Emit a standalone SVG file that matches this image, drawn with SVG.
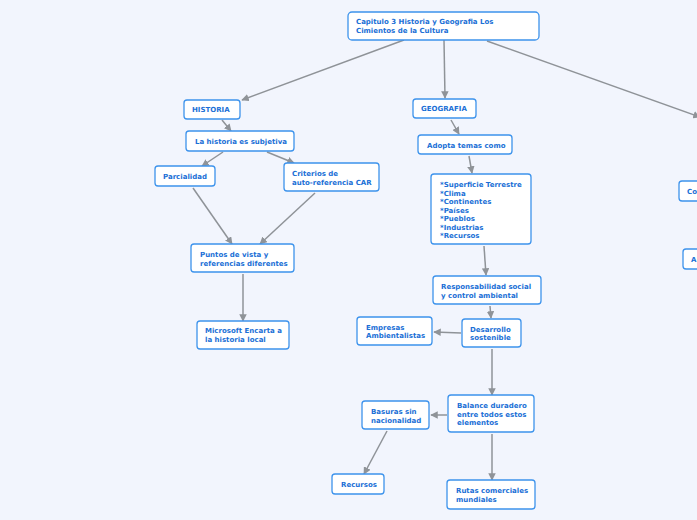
<svg xmlns="http://www.w3.org/2000/svg" width="697" height="520" viewBox="0 0 697 520">
<style>
.n{fill:#fff;stroke:#3d93ec;stroke-width:1.3}
.t{font-family:"DejaVu Sans",sans-serif;font-weight:bold;font-size:7px;fill:#1a6fd6}
.e{stroke:#8f9398;stroke-width:1.5;fill:none;marker-end:url(#a)}
</style>
<defs><marker id="a" viewBox="0 0 10 10" refX="9" refY="5" markerWidth="5" markerHeight="5" orient="auto"><path d="M0,0L10,5L0,10z" fill="#8f9398"/></marker></defs>
<rect width="697" height="520" fill="#f2f5fd"/>
<g id="connectors">
<path class="e" d="M404,40L242,100"/>
<path class="e" d="M444,40L445,98"/>
<path class="e" d="M487,41L700,117"/>
<path class="e" d="M222,120L231,131"/>
<path class="e" d="M223,152L202,166"/>
<path class="e" d="M267,152L294,163"/>
<path class="e" d="M193,188L232,244"/>
<path class="e" d="M315,193L260,244"/>
<path class="e" d="M243,274L243,321"/>
<path class="e" d="M451,120L459,134"/>
<path class="e" d="M469,156L472,173"/>
<path class="e" d="M484,246L486,275"/>
<path class="e" d="M490,306L491,318"/>
<path class="e" d="M461,333L434,332"/>
<path class="e" d="M492,349L492,395"/>
<path class="e" d="M447,415L431,415"/>
<path class="e" d="M387,431L364,474"/>
<path class="e" d="M492,434L492,480"/>
</g>
<g id="root"><rect class="n" x="348" y="12" width="191" height="28" rx="4"/><text class="t" x="356" y="24">Capitulo 3 Historia y Geografia Los</text><text class="t" x="356" y="33">Cimientos de la Cultura</text></g>
<g id="historia"><rect class="n" x="184" y="100" width="56" height="19" rx="3"/><text class="t" x="192" y="112">HISTORIA</text></g>
<g id="subjetiva"><rect class="n" x="186" y="131" width="108" height="20" rx="3"/><text class="t" x="195" y="144">La historia es subjetiva</text></g>
<g id="parcialidad"><rect class="n" x="155" y="166" width="60" height="20" rx="3"/><text class="t" x="163" y="179">Parcialidad</text></g>
<g id="criterios"><rect class="n" x="284" y="163" width="95" height="28" rx="3"/><text class="t" x="292" y="176">Criterios de</text><text class="t" x="292" y="185">auto-referencia CAR</text></g>
<g id="puntos"><rect class="n" x="191" y="244" width="103" height="28" rx="3"/><text class="t" x="200" y="257">Puntos de vista y</text><text class="t" x="200" y="266">referencias diferentes</text></g>
<g id="encarta"><rect class="n" x="197" y="321" width="92" height="28" rx="3"/><text class="t" x="205" y="333">Microsoft Encarta a</text><text class="t" x="205" y="342">la historia local</text></g>
<g id="geografia"><rect class="n" x="413" y="99" width="63" height="19" rx="3"/><text class="t" x="421" y="111">GEOGRAFIA</text></g>
<g id="adopta"><rect class="n" x="418" y="135" width="94" height="19" rx="3"/><text class="t" x="427" y="148">Adopta temas como</text></g>
<g id="lista"><rect class="n" x="431" y="174" width="100" height="70" rx="3"/>
<text class="t" x="440" y="187">*Superficie Terrestre</text><text class="t" x="440" y="195.5">*Clima</text><text class="t" x="440" y="204">*Continentes</text><text class="t" x="440" y="212.5">*Países</text><text class="t" x="440" y="221">*Pueblos</text><text class="t" x="440" y="229.5">*Industrias</text><text class="t" x="440" y="238">*Recursos</text></g>
<g id="resp"><rect class="n" x="433" y="276" width="108" height="28" rx="3"/><text class="t" x="441" y="289">Responsabilidad social</text><text class="t" x="441" y="298">y control ambiental</text></g>
<g id="desarrollo"><rect class="n" x="462" y="319" width="59" height="28" rx="3"/><text class="t" x="470" y="332">Desarrollo</text><text class="t" x="470" y="340">sostenible</text></g>
<g id="empresas"><rect class="n" x="357" y="317" width="75" height="28" rx="3"/><text class="t" x="366" y="330">Empresas</text><text class="t" x="366" y="338">Ambientalistas</text></g>
<g id="balance"><rect class="n" x="448" y="395" width="86" height="37" rx="3"/><text class="t" x="457" y="408">Balance duradero</text><text class="t" x="457" y="417">entre todos estos</text><text class="t" x="457" y="425">elementos</text></g>
<g id="basuras"><rect class="n" x="362" y="401" width="67" height="28" rx="3"/><text class="t" x="371" y="414">Basuras sin</text><text class="t" x="371" y="423">nacionalidad</text></g>
<g id="recursos"><rect class="n" x="332" y="474" width="52" height="20" rx="3"/><text class="t" x="341" y="487">Recursos</text></g>
<g id="rutas"><rect class="n" x="447" y="480" width="88" height="29" rx="3"/><text class="t" x="456" y="493">Rutas comerciales</text><text class="t" x="456" y="502">mundiales</text></g>
<g id="co"><rect class="n" x="679" y="181" width="30" height="20" rx="3"/><text class="t" x="687" y="194">Co</text></g>
<g id="a2"><rect class="n" x="683" y="249" width="30" height="20" rx="3"/><text class="t" x="691" y="262">A</text></g>
</svg>
